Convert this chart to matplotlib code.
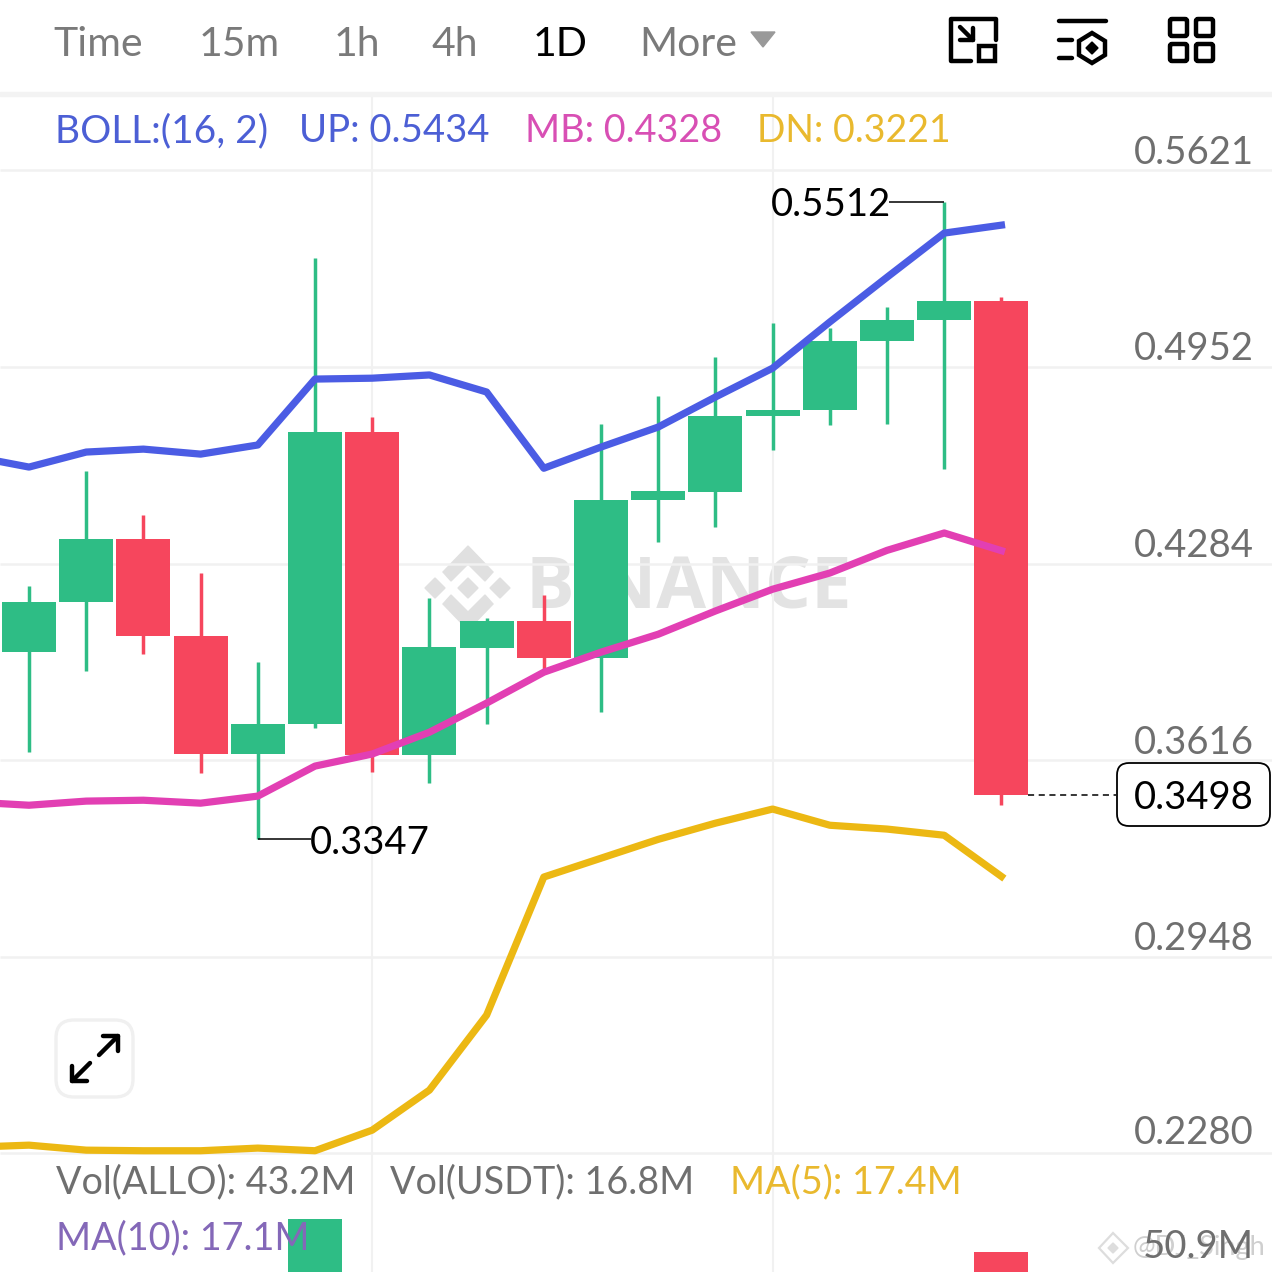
import matplotlib
matplotlib.use("Agg")
import matplotlib.pyplot as plt
from matplotlib.patches import FancyBboxPatch, Rectangle, Polygon

plt.rcParams['font.family'] = ['Lato', 'DejaVu Sans']

# candles
opens = [0.3983, 0.4153, 0.4367, 0.4038, 0.3637, 0.3739, 0.4732, 0.3633, 0.3997, 0.4089, 0.3963, 0.4500, 0.4527, 0.4785, 0.4806, 0.5040, 0.5111, 0.5176]
closes = [0.4153, 0.4367, 0.4038, 0.3637, 0.3739, 0.4732, 0.3633, 0.4000, 0.4089, 0.3963, 0.4500, 0.4530, 0.4785, 0.4806, 0.5040, 0.5111, 0.5176, 0.3498]
highs = [0.4207, 0.4598, 0.4449, 0.4252, 0.3949, 0.5322, 0.4782, 0.4167, 0.4099, 0.4177, 0.4759, 0.4853, 0.4986, 0.5101, 0.5084, 0.5156, 0.5512, 0.5189]
lows = [0.3644, 0.3919, 0.3976, 0.3572, 0.3347, 0.3725, 0.3576, 0.3538, 0.3739, 0.3922, 0.3779, 0.4357, 0.4408, 0.4670, 0.4755, 0.4759, 0.4605, 0.3463]

# bollinger lines start one candle left of the frame
boll_x = [-1, 0, 1, 2, 3, 4, 5, 6, 7, 8, 9, 10, 11, 12, 13, 14, 15, 16, 17]
boll_up = [0.4649, 0.4612, 0.4663, 0.4673, 0.4656, 0.4687, 0.4911, 0.4914, 0.4925, 0.4867, 0.4608, 0.4680, 0.4748, 0.4850, 0.4948, 0.5105, 0.5257, 0.5407, 0.5434]
boll_mb = [0.3474, 0.3463, 0.3477, 0.3480, 0.3470, 0.3494, 0.3596, 0.3637, 0.3711, 0.3810, 0.3915, 0.3983, 0.4044, 0.4123, 0.4197, 0.4252, 0.4329, 0.4388, 0.4328]
boll_dn = [0.2301, 0.2308, 0.2291, 0.2289, 0.2289, 0.2298, 0.2289, 0.2359, 0.2495, 0.2750, 0.3219, 0.3283, 0.3347, 0.3402, 0.3450, 0.3395, 0.3382, 0.3361, 0.3221]

price_ticks = [0.5621, 0.4952, 0.4284, 0.3616, 0.2948, 0.2280]
time_grid = [6, 13]
vol_x = [5, 17]
vol_m = [51.7, 43.2]

last_price = 0.3498
high_price = 0.5512
low_price = 0.3347

GREEN = "#2EBD85"
RED = "#F6465D"
GRID = "#F1F1F1"
GREY = "#6F6F6F"

fig = plt.figure(figsize=(12.72, 12.72), dpi=100)

# volume pane, only the tops of the bars show
ax_vol = fig.add_axes([0, 0, 1, 119 / 1272], zorder=1)
ax_vol.set_xlim(-0.507, 21.73)
ax_vol.set_ylim(38.0, 68.6)
ax_vol.axis("off")
ax_vol.bar(vol_x, vol_m, width=0.944, color=[GREEN, RED])

# pixel axes for the app chrome and the labels
ui = fig.add_axes([0, 0, 1, 1], zorder=0)
ui.set_xlim(0, 1272)
ui.set_ylim(1272, 0)
ui.axis("off")

# watermark sits under the candles
ui.text(525, 589, "BINANCE", fontsize=52, fontweight="bold", color="#E3E3E3", va="center", ha="left", family="Open Sans")
for cx in (435, 468, 500):
    ui.add_patch(Polygon([(cx - 10, 588), (cx, 578), (cx + 10, 588), (cx, 598)], color="#E0E0E0"))
ui.add_patch(Polygon([(468, 546), (443, 572), (451, 581), (468, 564), (485, 581), (493, 572)], color="#E0E0E0"))
ui.add_patch(Polygon([(468, 630), (443, 604), (451, 595), (468, 612), (485, 595), (493, 604)], color="#E0E0E0"))

ax = fig.add_axes([0, 0, 1, 1], zorder=2)
ax.patch.set_alpha(0)
ax.set_xlim(-0.507, 21.73)
ax.set_ylim(0.1877, 0.6199)
ax.axis("off")

ax.hlines(price_ticks, -0.507, 21.73, color=GRID, lw=1.8, zorder=1)
ax.vlines(time_grid, 0.1877, 0.5875, color=GRID, lw=1.5, zorder=1)

for i in range(len(opens)):
    c = GREEN if closes[i] >= opens[i] else RED
    ax.vlines(i, lows[i], highs[i], color=c, lw=2.5, zorder=3)
    ax.bar(i, abs(closes[i] - opens[i]), bottom=min(opens[i], closes[i]), width=0.944, color=c, zorder=3)

ax.plot(boll_x, boll_up, color="#4B5CE4", lw=5.2, zorder=4)
ax.plot(boll_x, boll_mb, color="#E23FB3", lw=5.2, zorder=4)
ax.plot(boll_x, boll_dn, color="#ECB813", lw=5.2, zorder=4)

# high, low and last price markers
ax.hlines(high_price, 15.03, 16, color="black", lw=1.1, zorder=5)
ax.hlines(low_price, 4, 4.93, color="black", lw=1.1, zorder=5)
ax.hlines(last_price, 17.47, 19.0, color="black", lw=1.1, linestyles=(0, (4, 3)), zorder=5)

over = fig.add_axes([0, 0, 1, 1], zorder=3)
over.patch.set_alpha(0)
over.set_xlim(0, 1272)
over.set_ylim(1272, 0)
over.axis("off")


def label(x, y, s, color=GREY, size=27.5, ha="left"):
    over.text(x, y, s, color=color, fontsize=size, ha=ha, va="center")


# top bar
over.add_patch(Rectangle((0, 92), 1272, 4, color="#F3F3F3"))
for x, s in [(53, "Time"), (199, "15m"), (334, "1h"), (431, "4h"), (639, "More")]:
    label(x, 44, s, color="#7A7A7A", size=29.5)
label(533, 44, "1D", color="black", size=29.5)
over.add_patch(Polygon([(751, 32), (775, 32), (763, 47)], color="#999999"))


# icons
def stroke(xs, ys, lw=3.2):
    over.plot(xs, ys, color="black", lw=lw, solid_capstyle="round", solid_joinstyle="round")


stroke([996, 996, 951, 951, 971], [40, 19, 19, 61, 61])
over.add_patch(Rectangle((979, 46), 16, 15, fill=False, ec="black", lw=3.2))
stroke([960, 973], [27, 40])
stroke([960, 973, 973], [40, 40, 28])
stroke([1059, 1106], [21, 21])
stroke([1059, 1072], [40, 40])
stroke([1059, 1072], [58, 58])
over.add_patch(Polygon([(1092, 33), (1105, 41), (1105, 55), (1092, 63), (1079, 55), (1079, 41)], fill=False, ec="black", lw=3.2))
over.add_patch(Polygon([(1092, 42), (1098, 48), (1092, 54), (1086, 48)], color="black"))
for bx in (1170, 1196):
    for by in (19, 44):
        over.add_patch(FancyBboxPatch((bx, by), 17, 17, boxstyle="round,pad=0,rounding_size=2", fill=False, ec="black", lw=3.2))

# indicator header
label(55, 131, "BOLL:(16, 2)", color="#4C5FD5", size=28)
label(299, 131, "UP: 0.5434", color="#4C5FD5")
label(525, 131, "MB: 0.4328", color="#D84FB4", size=27.2)
label(757, 131, "DN: 0.3221", color="#E9B92E", size=27)

# price axis labels
for v, y in zip(price_ticks, [153, 349, 546, 743, 939, 1133]):
    label(1254, y, f"{v:.4f}", ha="right")

label(771, 205, "0.5512", color="black")
label(310, 843, "0.3347", color="black")

over.add_patch(FancyBboxPatch((1117, 763), 153, 63, boxstyle="round,pad=0,rounding_size=12", fc="white", ec="black", lw=1.3))
label(1194, 798, "0.3498", color="black", ha="center")

# expand button
over.add_patch(FancyBboxPatch((56, 1020), 77, 77, boxstyle="round,pad=0,rounding_size=18", fill=False, ec="#F0F0F0", lw=2.4))
stroke([99, 118], [1055, 1036])
stroke([103, 118, 118], [1036, 1036, 1051])
stroke([90, 72], [1063, 1081])
stroke([72, 72, 87], [1066, 1081, 1081])

# volume header
label(56, 1182, "Vol(ALLO): 43.2M", size=27.2)
label(390, 1182, "Vol(USDT): 16.8M", size=27.2)
label(730, 1182, "MA(5): 17.4M", color="#E9B92E", size=27.2)
label(56, 1238, "MA(10): 17.1M", color="#8468B8", size=27.2)

# reposter stamp goes under the volume axis label
over.text(1133, 1248, "@DJ_Singh", fontsize=19.5, color="#CFCFCF", ha="left", va="center")
over.add_patch(Polygon([(1113, 1233), (1128, 1248), (1113, 1263), (1099, 1248)], fill=False, ec="#DDDDDD", lw=1.6))
over.add_patch(Polygon([(1113, 1243), (1118, 1248), (1113, 1253), (1108, 1248)], color="#DDDDDD"))
label(1254, 1247, "50.9M", ha="right")

fig.savefig("out.png", dpi=100)
